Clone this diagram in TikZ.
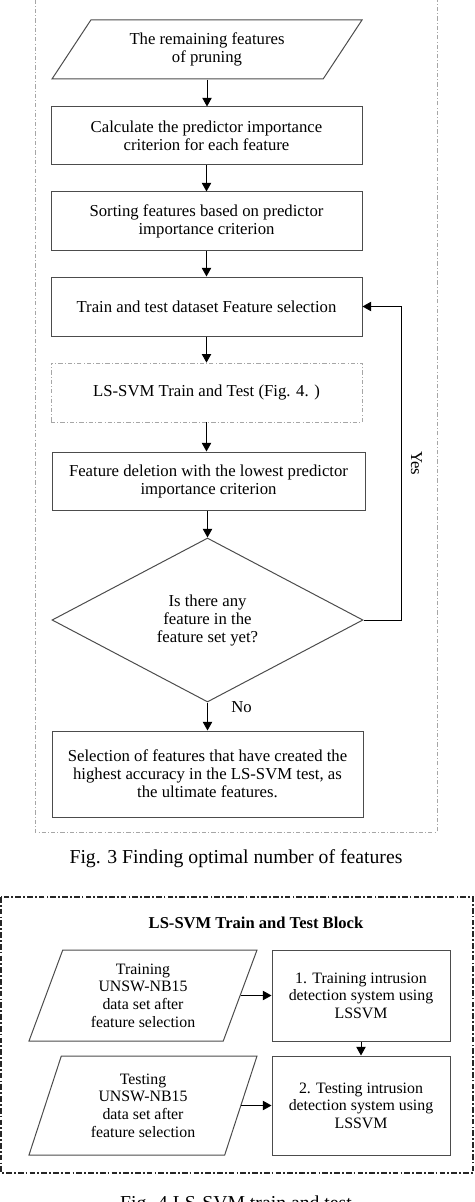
\documentclass[tikz,border=0pt]{standalone}
\usepackage{fontspec}
\setmainfont{Liberation Serif}
\usetikzlibrary{shapes.geometric,arrows.meta,positioning}

\tikzset{
  procbox/.style={rectangle, draw=black!70, line width=0.7pt, align=center, inner sep=2pt},
  databox/.style={trapezium, trapezium stretches body, draw=black!70, line width=0.7pt, align=center, inner sep=1pt},
  decbox/.style={diamond, shape aspect=1.9, draw=black!70, line width=0.7pt, align=center, inner sep=0pt,
                 minimum width=217.7pt, minimum height=114.8pt},
  blockbox/.style={draw=black!35, line width=0.5pt, dash pattern=on 3pt off 1.5pt on 0.6pt off 1.5pt},
  outerframe/.style={draw=black!85, line width=1.6pt, dash pattern=on 4pt off 1.5pt on 1.2pt off 1.5pt},
  arr/.style={-{Triangle[length=6pt,width=6.5pt]}, line width=0.7pt},
  capfont/.style={font=\fontsize{13.8}{16}\selectfont},
  smallfont/.style={font=\fontsize{11.1}{12.3}\selectfont},
}

\begin{document}
\begin{tikzpicture}[x=0.7pt, y=-0.7pt, font=\fontsize{11.7}{12.6}\selectfont]
  \useasboundingbox (0,0) rectangle (474,1202);

  % Fig. 3 : finding the number of features
  \draw[blockbox] (35,-10) rectangle (437,832);

  \node [databox, trapezium left angle=43, trapezium right angle=137, minimum width=217pt, minimum height=41.3pt] (start) at (207, 49.5) {The remaining features\\of pruning};
  \node [procbox, minimum width=217.7pt, minimum height=40.6pt] (calc) at (206.5, 136) {Calculate the predictor importance\\criterion for each feature};
  \node [procbox, minimum width=217.7pt, minimum height=41.3pt] (sort) at (206.5, 221.5) {Sorting features based on predictor\\importance criterion};
  \node [procbox, minimum width=217.7pt, minimum height=41.3pt] (trainsel) at (206.5, 306.5) {Train and test dataset Feature selection};
  \node [procbox, blockbox, minimum width=217.7pt, minimum height=41.3pt] (lssvm) at (206.5, 392.5) {LS-SVM Train and Test (Fig. 4. )};
  \node [procbox, minimum width=219.1pt, minimum height=40.6pt] (delete) at (208.5, 481) {Feature deletion with the lowest predictor\\importance criterion};
  \node [decbox] (cond) at (207.5, 620) {Is there any\\feature in the\\feature set yet?};
  \node [procbox, minimum width=217.7pt, minimum height=60.2pt] (final) at (207.5, 774) {Selection of features that have created the\\highest accuracy in the LS-SVM test, as\\the ultimate features.};

  \draw[arr] (start.south) -- (start.south |- calc.north);
  \draw[arr] (calc.south) -- (sort.north);
  \draw[arr] (sort.south) -- (trainsel.north);
  \draw[arr] (trainsel.south) -- (lssvm.north);
  \draw[arr] (lssvm.south) -- (lssvm.south |- delete.north);
  \draw[arr] (cond.north |- delete.south) -- (cond.north);
  \draw[arr] (cond.east) -- ++(38,0) |- (trainsel.east) node[pos=0.25, anchor=south, rotate=-90, yshift=3pt] {Yes};
  \draw[arr] (cond.south) -- node[pos=0.17, right=13pt] {No} (final.north);

  \node [capfont] (cap3) at (236, 859) {Fig. 3 Finding optimal number of features};

  % Fig. 4 : LS-SVM block
  \draw[outerframe] (1,897) rectangle (473,1173);

  \node [font=\fontsize{11.6}{13}\selectfont\bfseries] (blocktitle) at (256, 923) {LS-SVM Train and Test Block};

  \node [databox, smallfont, trapezium left angle=63, trapezium right angle=117, minimum width=159.6pt, minimum height=63.7pt] (trainin) at (143, 995.5) {Training\\UNSW-NB15\\data set after\\feature selection};
  \node [procbox, smallfont, minimum width=124.6pt, minimum height=63.7pt] (trainids) at (361, 995.5) {1. Training intrusion\\detection system using\\LSSVM};
  \node [databox, smallfont, trapezium left angle=64, trapezium right angle=116, minimum width=159.6pt, minimum height=69.3pt] (testin) at (143, 1105.5) {Testing\\UNSW-NB15\\data set after\\feature selection};
  \node [procbox, smallfont, minimum width=124.6pt, minimum height=69.3pt] (testids) at (361, 1105.5) {2. Testing intrusion\\detection system using\\LSSVM};

  \draw[arr] (trainin.right side) -- (trainids.west);
  \draw[arr] (testin.right side) -- (testids.west);
  \draw[arr] (trainids.south) -- (testids.north);

  \node [capfont, anchor=base] (cap4) at (236, 1209) {Fig. 4 LS-SVM train and test};
\end{tikzpicture}
\end{document}
